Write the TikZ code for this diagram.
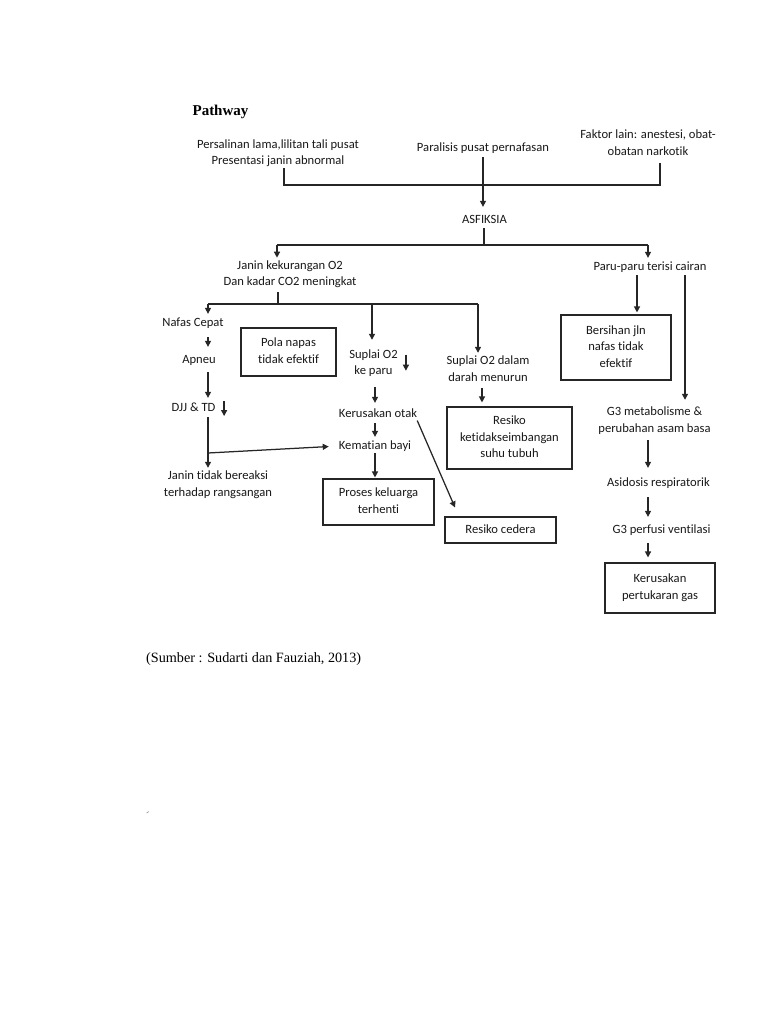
\documentclass[tikz,border=0pt]{standalone}
\usepackage{fontspec}
\setmainfont{Carlito}[Ligatures={NoCommon}]
\newfontfamily\tnr{Liberation Serif}
\usetikzlibrary{arrows.meta}
\newcommand{\stk}{\rule[-3.2pt]{0pt}{12.7pt}}
\begin{document}
\begin{tikzpicture}[x=1pt,y=-1pt,
  txt/.style={inner sep=0pt, align=center, text=black!90, font=\fontsize{12.6pt}{16.5pt}\selectfont},
  bx/.style={txt, draw=black!85, line width=1.1pt},
  ln/.style={draw=black!85, line width=1.25pt},
  arr/.style={ln, -{Triangle[length=6pt,width=6pt]}}]
\useasboundingbox (0,0) rectangle (768,1024);
\fill[white] (0,0) rectangle (768,1024);

\node[inner sep=0pt, font=\tnr\bfseries\fontsize{15pt}{18pt}\selectfont] (title) at (220.5,112) {Pathway};

\node[txt] (n_pers) at (278,153.5) {\stk Persalinan lama,lilitan tali pusat\\\stk Presentasi janin abnormal};
\node[txt] (n_para) at (483,148) {\stk Paralisis pusat pernafasan};
\node[txt] (n_fakt) at (648,144) {\stk Faktor lain: anestesi, obat-\\\stk obatan narkotik};
\coordinate (c_l) at (284,185);
\coordinate (c_r) at (660,185);
\node[txt] (n_asf) at (484.5,220) {\stk ASFIKSIA};
\coordinate (c_a) at (484,245);
\coordinate (c_al) at (277,245);
\coordinate (c_ar) at (648,245);
\node[txt] (n_janin) at (290,274.5) {\stk Janin kekurangan O2\\\stk Dan kadar CO2 meningkat};
\node[txt] (n_paru) at (650,267) {\stk Paru-paru terisi cairan};
\coordinate (c_bj) at (278,304);
\coordinate (c_bl) at (208,304);
\coordinate (c_bs) at (372,304);
\coordinate (c_br) at (478,304);

\node[txt] (n_nafas) at (193,323) {\stk Nafas Cepat};
\node[txt] (n_apneu) at (199,360) {\stk Apneu};
\node[txt] (n_djj) at (193.5,408) {\stk DJJ \& TD};
\node[txt] (n_jt) at (218,485) {\stk Janin tidak bereaksi\\\stk terhadap rangsangan};
\coordinate (c_dk) at (208,453);
\node[bx, minimum width=95pt, minimum height=48pt] (n_pola) at (288.5,352) {\stk Pola napas\\\stk tidak efektif};

\node[txt] (n_sup) at (373.5,363.5) {\stk Suplai O2\\\stk ke paru};
\node[txt] (n_ker) at (378,414) {\stk Kerusakan otak};
\node[txt] (n_kem) at (375,446) {\stk Kematian bayi};
\node[bx, minimum width=111pt, minimum height=46pt] (n_pro) at (378.5,502) {\stk Proses keluarga\\\stk terhenti};

\node[txt] (n_sd) at (488,370) {\stk Suplai O2 dalam\\\stk darah menurun};
\node[bx, minimum width=125pt, minimum height=62pt] (n_res) at (509.5,438) {\stk Resiko\\\stk ketidakseimbangan\\\stk suhu tubuh};
\node[bx, minimum width=111pt, minimum height=26pt] (n_ced) at (500.5,530) {\stk Resiko cedera};

\node[bx, minimum width=110pt, minimum height=65pt] (n_ber) at (616,347.5) {\stk Bersihan jln\\\stk nafas tidak\\\stk efektif};
\node[txt] (n_g3m) at (654.5,421) {\stk G3 metabolisme \&\\\stk perubahan asam basa};
\node[txt] (n_asid) at (658.5,483) {\stk Asidosis respiratorik};
\node[txt] (n_g3p) at (661.5,530) {\stk G3 perfusi ventilasi};
\node[bx, minimum width=110pt, minimum height=50pt] (n_kpg) at (660,588) {\stk Kerusakan\\\stk pertukaran gas};

\node[inner sep=0pt, anchor=west, font=\tnr\fontsize{14.2pt}{17pt}\selectfont] (n_src) at (146,659) {(Sumber : Sudarti dan Fauziah, 2013)};
\draw[black!40, line width=0.6pt] (146.5,813) -- (149,811.5);

% top merge
\draw[ln, shorten >=4.4pt] (n_pers.south -| c_l) -- (c_l) -- (c_r) -- (n_fakt.south -| c_r);
\draw[arr, shorten <=2.6pt, shorten >=6.6pt] (n_para.south) -- (n_para.south |- n_asf.north);
\draw[ln, shorten <=1.6pt] (n_asf.south -| c_a) -- (c_a);
\draw[ln] (c_al) -- (c_ar);
\draw[arr, shorten >=2pt] (c_al) -- (c_al |- n_janin.north);
\draw[arr, shorten >=2.6pt] (c_ar) -- (c_ar |- n_paru.north);

% left branch
\draw[ln, shorten <=3pt] (n_janin.south -| c_bj) -- (c_bj);
\draw[ln] (c_bl) -- (c_br);
\draw[arr, shorten >=2.6pt] (c_bl) -- (c_bl |- n_nafas.north);
\draw[arr, shorten <=7.6pt, shorten >=6.6pt] (n_nafas.south -| c_bl) -- (n_apneu.north -| c_bl);
\draw[arr, shorten <=5.6pt, shorten >=3.6pt] (n_apneu.south -| c_bl) -- (n_djj.north -| c_bl);
\draw[arr, shorten <=2.6pt, shorten >=2.4pt] (n_djj.south -| c_bl) -- (n_jt.north -| c_bl);
\draw[arr, shorten >=10pt] (c_dk) -- (n_kem.west);
\coordinate (c_d1) at ([xshift=8.5pt]n_djj.north east);
\coordinate (c_d2) at ([xshift=8.5pt,yshift=-1.5pt]n_djj.south east);
\draw[arr] (c_d1) -- (c_d2);

% middle branch
\draw[arr, shorten >=8.9pt] (c_bs) -- (c_bs |- n_sup.north);
\coordinate (c_s1) at ([xshift=8pt,yshift=-6pt]n_sup.north east);
\coordinate (c_s2) at ([xshift=8pt,yshift=-22pt]n_sup.north east);
\draw[arr] (c_s1) -- (c_s2);
\draw[arr, shorten <=8.9pt, shorten >=4.6pt] (n_sup.south -| n_kem) -- (n_ker.north -| n_kem);
\draw[arr, shorten <=2.6pt, shorten >=2.6pt] (n_ker.south -| n_kem) -- (n_kem.north);
\draw[arr, shorten <=0.6pt, shorten >=1pt] (n_kem.south) -- (n_kem.south |- n_pro.north);
\coordinate (c_ce) at ([xshift=-45.5pt,yshift=9pt]n_ced.north);
\draw[arr] (n_ker.south east) -- (c_ce);

\draw[arr, shorten >=2.4pt] (c_br) -- (c_br |- n_sd.north);
\coordinate (c_sd) at ([xshift=-6pt]n_sd.south);
\draw[arr, shorten <=3.4pt, shorten >=4pt] (c_sd) -- (c_sd |- n_res.north);

% right branch
\coordinate (c_pl) at ([xshift=-13pt]n_paru.south);
\coordinate (c_pr) at ([xshift=35pt]n_paru.south);
\draw[arr, shorten <=1.6pt, shorten >=2pt] (c_pl) -- (c_pl |- n_ber.north);
\draw[arr, shorten <=1.6pt, shorten >=6.4pt] (c_pr) -- (c_pr |- n_g3m.north);
\coordinate (c_g) at ([xshift=-6.5pt]n_g3m.south);
\draw[arr, shorten <=4.4pt, shorten >=8.6pt] (c_g) -- (c_g |- n_asid.north);
\draw[arr, shorten <=7.6pt, shorten >=6.6pt] (c_g |- n_asid.south) -- (c_g |- n_g3p.north);
\draw[arr, shorten <=6.6pt, shorten >=5pt] (c_g |- n_g3p.south) -- (c_g |- n_kpg.north);
\end{tikzpicture}
\end{document}
